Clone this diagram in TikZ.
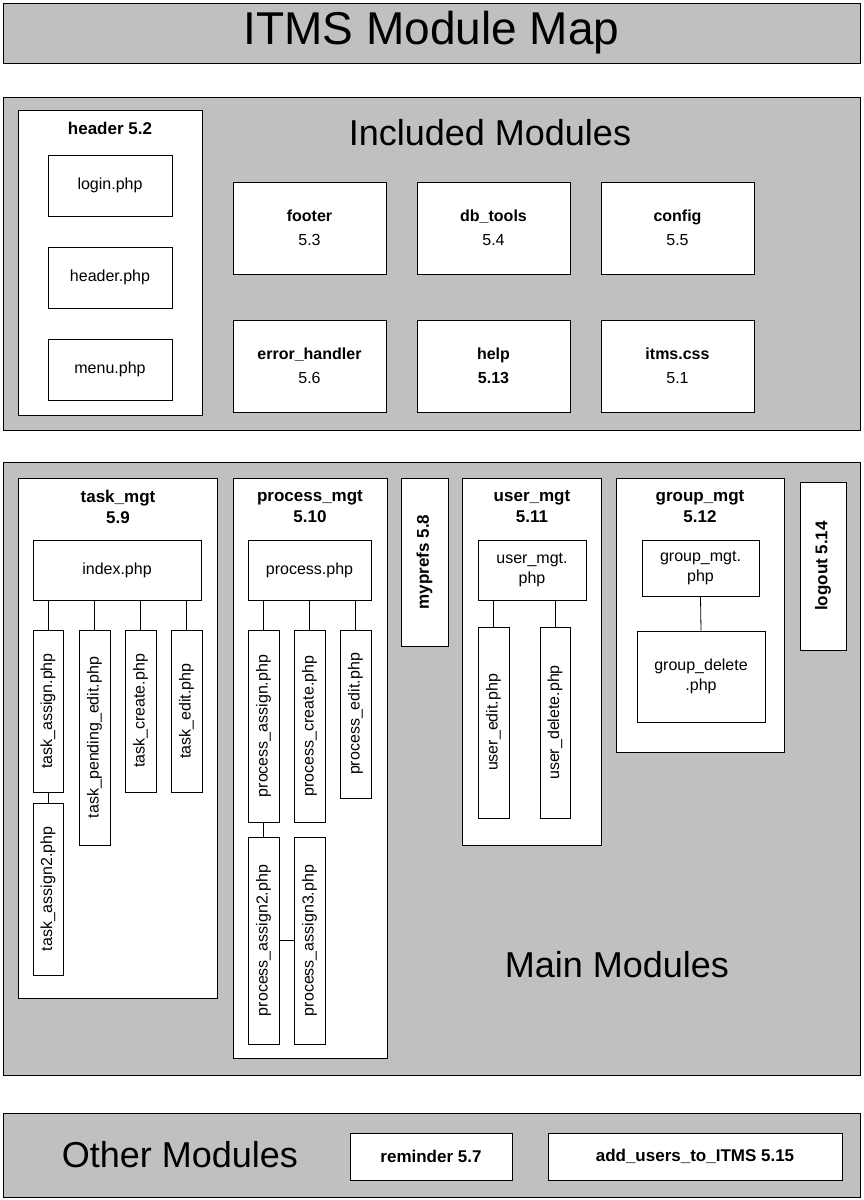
\documentclass[tikz,border=0pt]{standalone}
\usepackage{fontspec}
\setmainfont{Liberation Sans}
\usetikzlibrary{fit}
\definecolor{panel}{HTML}{C0C0C0}
\tikzset{
  panelbox/.style={draw=black, fill=panel, line width=0.8pt, inner sep=0pt},
  wbox/.style={draw=black, fill=white, line width=0.8pt, inner sep=0pt},
  nf/.style={font=\fontsize{16}{20}\selectfont, align=center},
  bf/.style={font=\fontsize{17}{21}\selectfont\bfseries, align=center},
  t/.style={label={[nf]center:{#1}}},
  tb/.style={label={[bf]center:{#1}}},
  v/.style={label={[nf,rotate=90]center:{#1}}},
  vb/.style={label={[bf,rotate=90]center:{#1}}},
  ttl/.style={font=\fontsize{17}{21}\selectfont\bfseries, align=center},
  big/.style={font=\fontsize{36}{42}\selectfont},
  conn/.style={line width=0.8pt},
  bx/.style n args={4}{fit={(#1,#2) (#3,#4)}}
}
\begin{document}
\begin{tikzpicture}[x=1pt,y=-1pt]
\useasboundingbox (0,0) rectangle (864,1200);
% title
\node[panelbox, bx={3}{3}{860}{63}, label={[font=\fontsize{46}{52}\selectfont]center:ITMS Module Map}] (title) {};
% included
\node[panelbox, bx={3}{97}{860}{430}] (inc) {};
\node[big] (inclbl) at (490,133) {Included Modules};
\node[wbox, bx={18}{110}{202}{415}] (hdr) {};
\node[ttl] (hdrlbl) at (110,128) {header 5.2};
\node[wbox, bx={48}{155}{172}{216}, t=login.php] (login) {};
\node[wbox, bx={48}{247}{172}{308}, t=header.php] (headerphp) {};
\node[wbox, bx={48}{339}{172}{400}, t=menu.php] (menu) {};
\node[wbox, bx={233}{182}{386}{274}, t={\textbf{footer}\\[4pt]5.3}] (footer) {};
\node[wbox, bx={417}{182}{570}{274}, t={\textbf{db\_tools}\\[4pt]5.4}] (dbtools) {};
\node[wbox, bx={601}{182}{754}{274}, t={\textbf{config}\\[4pt]5.5}] (config) {};
\node[wbox, bx={233}{320}{386}{412}, t={\textbf{error\_handler}\\[4pt]5.6}] (err) {};
\node[wbox, bx={417}{320}{570}{412}, t={\textbf{help}\\[4pt]\textbf{5.13}}] (help) {};
\node[wbox, bx={601}{320}{754}{412}, t={\textbf{itms.css}\\[4pt]5.1}] (css) {};
% main
\node[panelbox, bx={3}{462}{860}{1075}] (main) {};
\node[big] (mainlbl) at (617,965) {Main Modules};
% task_mgt
\node[wbox, bx={18}{478}{217}{998}] (task) {};
\node[ttl] (tasklbl) at (118,507) {task\_mgt\\5.9};
\node[wbox, bx={33}{540}{201}{600}, t=index.php] (index) {};
\node[wbox, bx={33}{630}{63}{792}, v=task\_assign.php] (ta) {};
\node[wbox, bx={79}{630}{110}{845}, v=task\_pending\_edit.php] (tpe) {};
\node[wbox, bx={125}{630}{156}{792}, v=task\_create.php] (tc) {};
\node[wbox, bx={171}{630}{202}{792}, v=task\_edit.php] (te) {};
\node[wbox, bx={33}{803}{63}{975}, v=task\_assign2.php] (ta2) {};
\foreach \n in {ta,tpe,tc,te} \draw[conn] (\n.north) -- (\n.north |- index.south);
\draw[conn] (ta.south) -- (ta2.north);
% process_mgt
\node[wbox, bx={233}{478}{387}{1058}] (proc) {};
\node[ttl] (proclbl) at (310,507) {process\_mgt\\5.10};
\node[wbox, bx={248}{540}{371}{600}, t=process.php] (procphp) {};
\node[wbox, bx={248}{630}{279}{822}, v=process\_assign.php] (pa) {};
\node[wbox, bx={294}{630}{325}{822}, v=process\_create.php] (pc) {};
\node[wbox, bx={340}{630}{371}{798}, v=process\_edit.php] (pe) {};
\node[wbox, bx={248}{837}{279}{1044}, v=process\_assign2.php] (pa2) {};
\node[wbox, bx={294}{837}{325}{1044}, v=process\_assign3.php] (pa3) {};
\foreach \n in {pa,pc,pe} \draw[conn] (\n.north) -- (\n.north |- procphp.south);
\draw[conn] (pa.south) -- (pa2.north);
\draw[conn] (pa2.east) -- (pa3.west);
% myprefs
\node[wbox, bx={401}{478}{448}{646}, vb={myprefs 5.8}] (myprefs) {};
% user_mgt
\node[wbox, bx={462}{478}{601}{845}] (user) {};
\node[ttl] (userlbl) at (532,507) {user\_mgt\\5.11};
\node[wbox, bx={478}{540}{586}{600}, t={user\_mgt.\\php}] (userphp) {};
\node[wbox, bx={478}{627}{509}{818}, v=user\_edit.php] (ue) {};
\node[wbox, bx={540}{627}{570}{818}, v=user\_delete.php] (ud) {};
\foreach \n in {ue,ud} \draw[conn] (\n.north) -- (\n.north |- userphp.south);
% group_mgt
\node[wbox, bx={616}{478}{784}{752}] (group) {};
\node[ttl] (grouplbl) at (700,507) {group\_mgt\\5.12};
\node[wbox, bx={642}{540}{759}{596}, t={group\_mgt.\\php}] (groupphp) {};
\node[wbox, bx={637}{631}{765}{722}, t={group\_delete\\.php}] (gd) {};
\draw[conn] (groupphp.south) -- (gd.north);
% logout
\node[wbox, bx={800}{482}{846}{650}, vb={logout 5.14}] (logout) {};
% other
\node[panelbox, bx={3}{1113}{860}{1197}] (other) {};
\node[big] (otherlbl) at (180,1155) {Other Modules};
\node[wbox, bx={350}{1133}{512}{1180}, tb={reminder 5.7}] (rem) {};
\node[wbox, bx={548}{1133}{842}{1180}, tb={add\_users\_to\_ITMS 5.15}] (addu) {};
\end{tikzpicture}
\end{document}
